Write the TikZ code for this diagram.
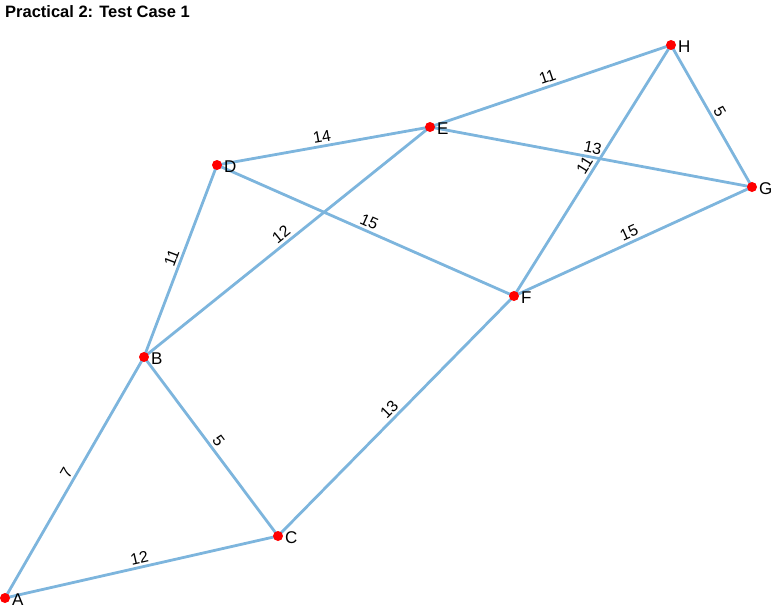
\documentclass[tikz,border=0pt]{standalone}
\usepackage{fontspec}
\setmainfont{Liberation Sans}
\begin{document}
\begin{tikzpicture}[x=1pt,y=-1pt,
  vtx/.style={circle,fill=red,inner sep=0pt,minimum size=10pt},
  edge/.style={draw=ebl,line width=2.8pt},
  wt/.style={midway,above,sloped,font=\fontsize{16}{16}\selectfont,inner sep=2.5pt},
  lbl/.style={font=\fontsize{17}{17}\selectfont}]
\definecolor{ebl}{RGB}{125,181,221}
\useasboundingbox (0,0) rectangle (774,611);
\node[anchor=north west,font=\bfseries\fontsize{16.5}{16.5}\selectfont,inner sep=0pt] (title) at (5,5) {Practical 2: Test Case 1};
\coordinate (A) at (5,598); \coordinate (B) at (144,357); \coordinate (C) at (278,536);
\coordinate (D) at (217,165); \coordinate (E) at (430,127); \coordinate (F) at (514,296);
\coordinate (G) at (752,187); \coordinate (H) at (671,45);
\draw[edge] (A) -- node[wt]{7} (B);
\draw[edge] (A) -- node[wt]{12} (C);
\draw[edge] (B) -- node[wt]{5} (C);
\draw[edge] (B) -- node[wt]{11} (D);
\draw[edge] (B) -- node[wt]{12} (E);
\draw[edge] (D) -- node[wt]{14} (E);
\draw[edge] (D) -- node[wt]{15} (F);
\draw[edge] (E) -- node[wt]{11} (H);
\draw[edge] (E) -- node[wt]{13} (G);
\draw[edge] (F) -- node[wt]{11} (H);
\draw[edge] (H) -- node[wt]{5} (G);
\draw[edge] (F) -- node[wt]{15} (G);
\draw[edge] (C) -- node[wt]{13} (F);
\foreach \n in {A,B,C,D,E,F,G,H}{
  \node[vtx] (v\n) at (\n) {};
  \node[lbl,anchor=west,xshift=7pt,yshift=-2pt,inner sep=0pt] (l\n) at (\n) {\n};
}
\end{tikzpicture}
\end{document}
